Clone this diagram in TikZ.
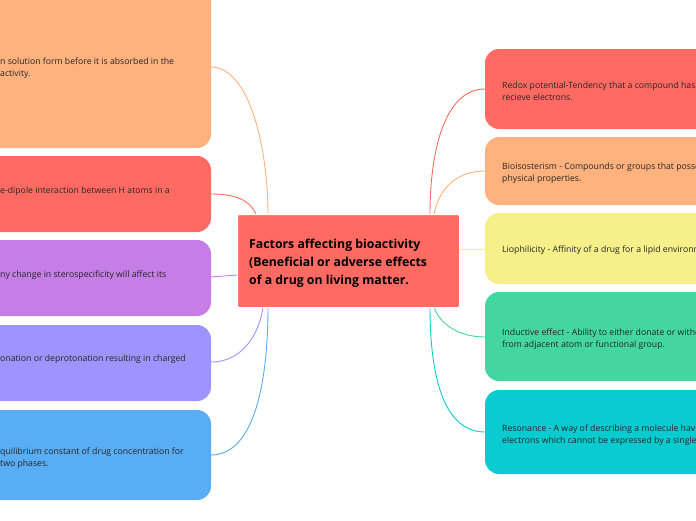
\documentclass[tikz,border=0pt]{standalone}
\usepackage{fontspec}
\setmainfont{Open Sans}
\definecolor{cor}{HTML}{FFB27E}
\definecolor{cred}{HTML}{FF6B63}
\definecolor{cpur}{HTML}{C47EE6}
\definecolor{clav}{HTML}{9D94FF}
\definecolor{cblu}{HTML}{58ADF5}
\definecolor{cyel}{HTML}{F7F08A}
\definecolor{cgrn}{HTML}{44D6A0}
\definecolor{ccya}{HTML}{0ACBD0}
\begin{document}
\begin{tikzpicture}[x=1pt,y=-1pt,
  box/.style={rounded corners=14pt},
  txt/.style={anchor=base west,inner sep=0pt,font=\fontsize{8.7}{12}\selectfont,align=left,text=black!85},
  con/.style={line width=0.9pt}]
\useasboundingbox (0,0) rectangle (696,520);
\clip (0,0) rectangle (696,520);
% left boxes
\fill[cor,box] (-40,-20) rectangle (211,148);
\fill[cred,box] (-40,156) rectangle (211,232);
\fill[cpur,box] (-40,240) rectangle (211,316);
\fill[clav,box] (-40,325) rectangle (211,401);
\fill[cblu,box] (-40,410) rectangle (211,500);
\coordinate (l1) at (211,67);
\coordinate (l2) at (211,194);
\coordinate (l3) at (211,277);
\coordinate (l4) at (211,362);
\coordinate (l5) at (211,455);
\node[txt] (t1) at (0,76) {n solution form before it is absorbed in the\\ activity.};
\node[txt] (t2) at (0,193) {e-dipole interaction between H atoms in a};
\node[txt] (t3) at (0,277) {ny change in sterospecificity will affect its};
\node[txt] (t4) at (0,361) {onation or deprotonation resulting in charged};
\node[txt] (t5) at (0,466) {quilibrium constant of drug concentration for\\ two phases.};
% right boxes
\fill[cred,box] (485,49) rectangle (740,129);
\fill[cor,box] (485,137) rectangle (740,205);
\fill[cyel,box] (485,213) rectangle (740,284);
\fill[cgrn,box] (485,292) rectangle (740,381);
\fill[ccya,box] (485,390) rectangle (740,474);
\coordinate (r1) at (485,89);
\coordinate (r2) at (485,171);
\coordinate (r3) at (485,249);
\coordinate (r4) at (485,337);
\coordinate (r5) at (485,432);
\node[txt] (u1) at (502,100) {Redox potential-Tendency that a compound has to\\recieve electrons.};
\node[txt] (u2) at (502,181) {Bioisosterism - Compounds or groups that possess similar\\physical properties.};
\node[txt] (u3) at (502,252) {Liophilicity - Affinity of a drug for a lipid environment.};
\node[txt] (u4) at (502,347) {Inductive effect - Ability to either donate or withdraw electrons\\from adjacent atom or functional group.};
\node[txt] (u5) at (502,443) {Resonance - A way of describing a molecule having delocalised\\electrons which cannot be expressed by a single structure.};
% connectors
\draw[con,cor] (l1) .. controls (250,67) and (268,150) .. (268,214);
\draw[con,cred] (l2) .. controls (235,194) and (250,200) .. (256,214);
\draw[con,cpur] (l3) -- (237,275);
\draw[con,clav] (l4) .. controls (245,362) and (260,330) .. (263,307);
\draw[con,cblu] (l5) .. controls (255,455) and (268,380) .. (268,307);
\draw[con,cred] (430,214) .. controls (430,150) and (445,89) .. (r1);
\draw[con,cor] (434,214) .. controls (440,185) and (460,171) .. (r2);
\draw[con,cyel] (459,249) -- (r3);
\draw[con,cgrn] (434,307) .. controls (440,325) and (460,337) .. (r4);
\draw[con,ccya] (430,307) .. controls (430,380) and (445,432) .. (r5);
% center
\node[fill=cred,draw=white,line width=1pt,rounded corners=2pt,minimum width=222pt,minimum height=93pt,anchor=north west] (c) at (237,214) {};
\node[anchor=base west,inner sep=0pt,align=left,font=\bfseries\fontsize{12.3}{18}\selectfont] (ct) at (249,284) {Factors affecting bioactivity\\(Beneficial or adverse effects\\of a drug on living matter.};
\end{tikzpicture}
\end{document}
